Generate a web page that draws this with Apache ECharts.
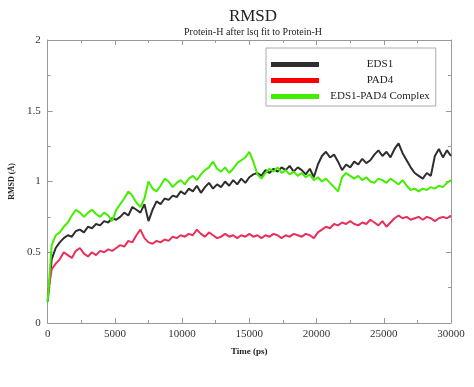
<!DOCTYPE html>
<html><head><meta charset="utf-8">
<script src="https://cdn.jsdelivr.net/npm/echarts@6/dist/echarts.min.js"></script>
<style>html,body{margin:0;padding:0;background:#fff}#c{width:474px;height:387px}</style>
</head><body><div id="c"></div>
<script>
const times = [0,300,600,900,1200,1500,1800,2100,2400,2700,3000,3300,3600,3900,4200,4500,4800,5100,5400,5700,6000,6300,6600,6900,7200,7500,7800,8100,8400,8700,9000,9300,9600,9900,10200,10500,10800,11100,11400,11700,12000,12300,12600,12900,13200,13500,13800,14100,14400,14700,15000,15300,15600,15900,16200,16500,16800,17100,17400,17700,18000,18300,18600,18900,19200,19500,19800,20100,20400,20700,21000,21300,21600,21900,22200,22500,22800,23100,23400,23700,24000,24300,24600,24900,25200,25500,25800,26100,26400,26700,27000,27300,27600,27900,28200,28500,28800,29100,29400,29700,30000];
const eds1 = [0.15,0.45,0.53,0.57,0.60,0.62,0.61,0.65,0.66,0.64,0.68,0.67,0.70,0.69,0.72,0.71,0.74,0.73,0.75,0.78,0.76,0.82,0.80,0.78,0.84,0.72,0.80,0.86,0.84,0.88,0.87,0.90,0.89,0.93,0.91,0.95,0.93,0.97,0.92,0.96,0.99,0.95,0.98,0.96,1.00,0.97,1.01,0.98,1.02,0.99,1.03,1.05,1.06,1.04,1.08,1.06,1.09,1.07,1.10,1.08,1.11,1.07,1.10,1.08,1.05,1.09,1.03,1.12,1.18,1.21,1.17,1.19,1.14,1.08,1.12,1.10,1.14,1.12,1.16,1.13,1.15,1.19,1.22,1.18,1.21,1.17,1.23,1.27,1.20,1.15,1.10,1.06,1.04,1.02,1.06,1.04,1.18,1.23,1.17,1.22,1.18];
const pad4 = [0.20,0.38,0.42,0.45,0.50,0.48,0.46,0.51,0.53,0.49,0.47,0.50,0.48,0.51,0.50,0.52,0.51,0.53,0.55,0.54,0.58,0.57,0.62,0.66,0.60,0.57,0.56,0.58,0.57,0.59,0.58,0.61,0.60,0.62,0.61,0.63,0.62,0.66,0.63,0.61,0.64,0.62,0.60,0.61,0.63,0.61,0.62,0.60,0.62,0.61,0.63,0.61,0.62,0.60,0.62,0.61,0.63,0.62,0.60,0.62,0.61,0.63,0.62,0.61,0.63,0.62,0.60,0.64,0.66,0.68,0.67,0.70,0.69,0.71,0.70,0.72,0.70,0.69,0.71,0.70,0.73,0.71,0.69,0.72,0.68,0.71,0.74,0.76,0.74,0.75,0.73,0.74,0.75,0.73,0.75,0.74,0.72,0.74,0.75,0.74,0.76];
const complexSeries = [0.15,0.55,0.62,0.64,0.68,0.71,0.76,0.80,0.78,0.75,0.78,0.80,0.77,0.75,0.78,0.76,0.72,0.80,0.84,0.88,0.93,0.90,0.85,0.82,0.88,1.00,0.95,0.93,0.97,1.02,1.00,0.96,0.99,1.01,0.98,1.02,1.04,1.01,1.05,1.08,1.10,1.14,1.09,1.07,1.10,1.06,1.09,1.13,1.15,1.17,1.21,1.14,1.05,1.02,1.06,1.09,1.07,1.10,1.06,1.08,1.05,1.07,1.04,1.06,1.03,1.05,1.01,1.03,1.00,1.02,0.99,0.96,0.93,1.03,1.06,1.04,1.02,1.04,1.01,1.03,1.00,0.99,1.02,1.01,0.99,1.02,1.00,0.98,1.01,0.97,0.94,0.95,0.93,0.95,0.94,0.96,0.95,0.97,0.96,0.99,1.01];
const seriesNames = ['EDS1','PAD4','EDS1-PAD4 Complex'];
const xTicks = [0,5000,10000,15000,20000,25000,30000];
const yTicks = [0,0.5,1,1.5,2];

const pair = arr => times.map((t,i)=>[t,arr[i]]);
const serif = '"Liberation Serif","DejaVu Serif",serif';
const axisCol = '#999';
const chart = echarts.init(document.getElementById('c'), null, {renderer:'canvas'});
const baseX = {type:'value',min:0,max:30000,interval:5000,
  axisLine:{show:true,onZero:false,lineStyle:{color:axisCol,width:1}},
  axisTick:{show:true,inside:true,length:5,lineStyle:{color:axisCol}},
  minorTick:{show:true,splitNumber:2,length:3,lineStyle:{color:axisCol}},
  splitLine:{show:false},minorSplitLine:{show:false}};
const baseY = {type:'value',min:0,max:2,interval:0.5,
  axisLine:{show:true,onZero:false,lineStyle:{color:axisCol,width:1}},
  axisTick:{show:true,inside:true,length:5,lineStyle:{color:axisCol}},
  minorTick:{show:true,splitNumber:2,length:3,lineStyle:{color:axisCol}},
  splitLine:{show:false},minorSplitLine:{show:false}};
chart.setOption({
  animation:false,
  backgroundColor:'#fff',
  title:[
    {text:'RMSD',left:248,textAlign:'center',top:3,textStyle:{fontFamily:serif,fontSize:17,fontWeight:'normal',color:'#222'}},
    {text:'Protein-H after lsq fit to Protein-H',left:248,textAlign:'center',top:22,textStyle:{fontFamily:serif,fontSize:10,fontWeight:'normal',color:'#222'}}
  ],
  grid:{left:45,right:23,top:40,bottom:64},
  legend:{
    data:seriesNames, orient:'vertical', left:266, top:48,
    padding:[11,6,4,5], itemGap:5, itemWidth:48, itemHeight:5,
    icon:'rect', borderColor:'#aaa', borderWidth:1, backgroundColor:'#fff',
    formatter:n=>'{c|'+n+'}',
    textStyle:{fontFamily:serif,fontSize:11,color:'#222',
      rich:{c:{width:112,align:'center',fontFamily:serif,fontSize:11,color:'#222'}}}
  },
  xAxis:[
    Object.assign({}, baseX, {position:'bottom',
      name:'Time (ps)',nameLocation:'middle',nameGap:24,
      nameTextStyle:{fontFamily:serif,fontSize:9,fontWeight:'bold',color:'#222'},
      axisLabel:{fontFamily:serif,fontSize:11,color:'#333',margin:6,
        formatter:v=>xTicks.includes(v)?String(v):''}}),
    Object.assign({}, baseX, {position:'top',axisLabel:{show:false}})
  ],
  yAxis:[
    Object.assign({}, baseY, {position:'left',
      name:'RMSD (Å)',nameLocation:'middle',nameGap:30,nameRotate:90,
      nameTextStyle:{fontFamily:serif,fontSize:8,fontWeight:'bold',color:'#222'},
      axisLabel:{fontFamily:serif,fontSize:11,color:'#333',margin:7,
        formatter:v=>yTicks.includes(v)?String(v):''}}),
    Object.assign({}, baseY, {position:'right',axisLabel:{show:false}})
  ],
  series:[
    {name:seriesNames[0],type:'line',data:pair(eds1),showSymbol:false,color:'#2e2e2e',lineStyle:{width:2,color:'#2e2e2e'}},
    {name:seriesNames[1],type:'line',data:pair(pad4),showSymbol:false,color:'#ff0000',lineStyle:{width:2,color:'#e8305a'}},
    {name:seriesNames[2],type:'line',data:pair(complexSeries),showSymbol:false,color:'#44ee00',lineStyle:{width:2,color:'#44ee00'}}
  ]
});
</script></body></html>
